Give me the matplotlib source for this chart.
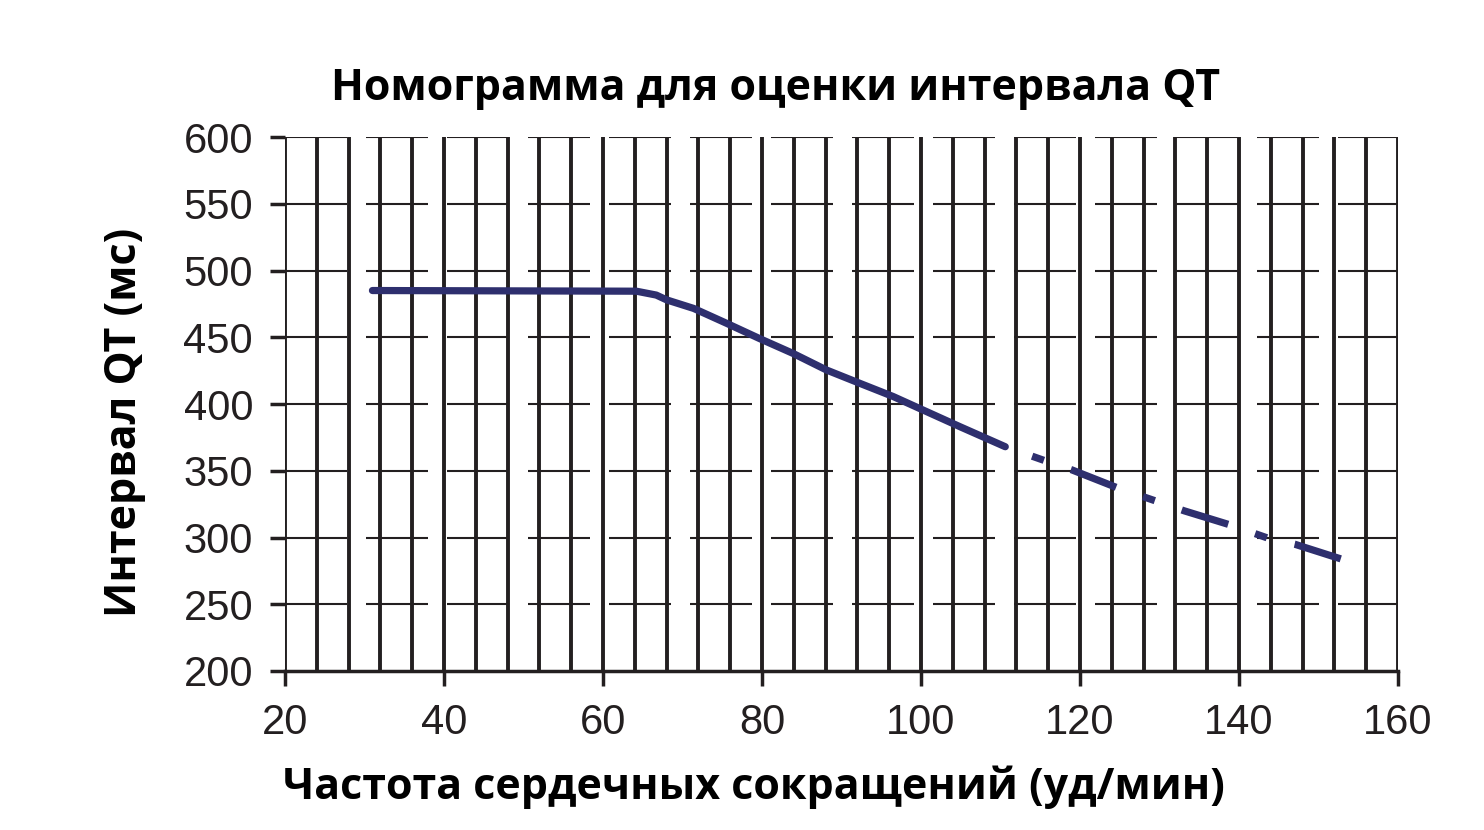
import matplotlib
matplotlib.use('Agg')
import matplotlib.pyplot as plt
import numpy as np

INK = '#231f20'
NAVY = '#2e2f6e'
plt.rcParams['font.family'] = ['Liberation Sans', 'DejaVu Sans']
plt.rcParams['lines.scale_dashes'] = False

hr = [31, 64.2, 66.7, 68, 71.4, 75.6, 79.7, 83.9, 88.1, 92.3, 96.5, 100.7, 104.9, 110.6,
      115.6, 119, 124.8, 129.7, 133.1, 138.9, 143.6, 147, 152.8]
qt = [485, 484.5, 481.6, 478, 471.6, 460.3, 449, 437.9, 425.5, 415.5, 405.6, 394.3, 383, 368,
      357.5, 350.6, 337, 327, 320, 309.4, 299.6, 295, 284]
yticks = [200, 250, 300, 350, 400, 450, 500, 550, 600]
xticks = [20, 40, 60, 80, 100, 120, 140, 160]

title = 'Номограмма для оценки интервала QT'
xlabel = 'Частота сердечных сокращений (уд/мин)'
ylabel = 'Интервал QT (мс)'

HR_DASH = 110.6  # дальше линия пунктирная

fig = plt.figure(figsize=(14.84, 8.3), dpi=100)
ax = fig.add_axes([285/1484, 1-671/830, (1398-285)/1484, (671-137)/830])
ax.set_xlim(20, 160); ax.set_ylim(200, 600)

# вертикальная сетка через 4 уд/мин
ax.vlines(np.arange(20, 161, 4), 200, 600, color=INK, lw=2.8, zorder=1)
# горизонтальная сетка с разрывами
gaps = 27.8 + 10.19*np.arange(13)
for y in yticks[1:]:
    x0 = 20
    for g in gaps:
        ax.plot([x0, g], [y, y], color=INK, lw=1.5, solid_capstyle='butt', zorder=1)
        x0 = g + 2.4
    ax.plot([x0, 160], [y, y], color=INK, lw=1.5, solid_capstyle='butt', zorder=1)

hr_a = np.array(hr); qt_a = np.array(qt)
m1 = hr_a <= HR_DASH; m2 = hr_a >= HR_DASH
ax.plot(hr_a[m1], qt_a[m1], color=NAVY, lw=5.2, solid_capstyle='round',
        solid_joinstyle='round', zorder=3)
ax.plot(hr_a[m2], qt_a[m2], color=NAVY, lw=5.2, zorder=3,
        linestyle=(64.5, (9, 20.5, 35, 20.5)), dash_capstyle='butt')

for s in ['left', 'right', 'top']:
    ax.spines[s].set_visible(False)
ax.spines['bottom'].set_linewidth(2.5)
ax.spines['bottom'].set_color(INK)
ax.set_xticks(xticks); ax.set_yticks(yticks)
ax.tick_params(axis='both', direction='out', length=11, width=2.5, color=INK,
               labelcolor=INK, labelsize=30)
ax.tick_params(axis='x', pad=12)
ax.tick_params(axis='y', pad=12)

bold = dict(family=['Open Sans', 'DejaVu Sans'], fontweight='bold', color='black')
fig.text(776/1484, 1-88/830, title, ha='center', va='center', fontsize=31, **bold)
fig.text(754/1484, 1-787/830, xlabel, ha='center', va='center', fontsize=31, **bold)
fig.text(125/1484, 1-422/830, ylabel, ha='center', va='center', rotation=90, fontsize=31, **bold)

fig.savefig('out.png', dpi=100, facecolor='white')
